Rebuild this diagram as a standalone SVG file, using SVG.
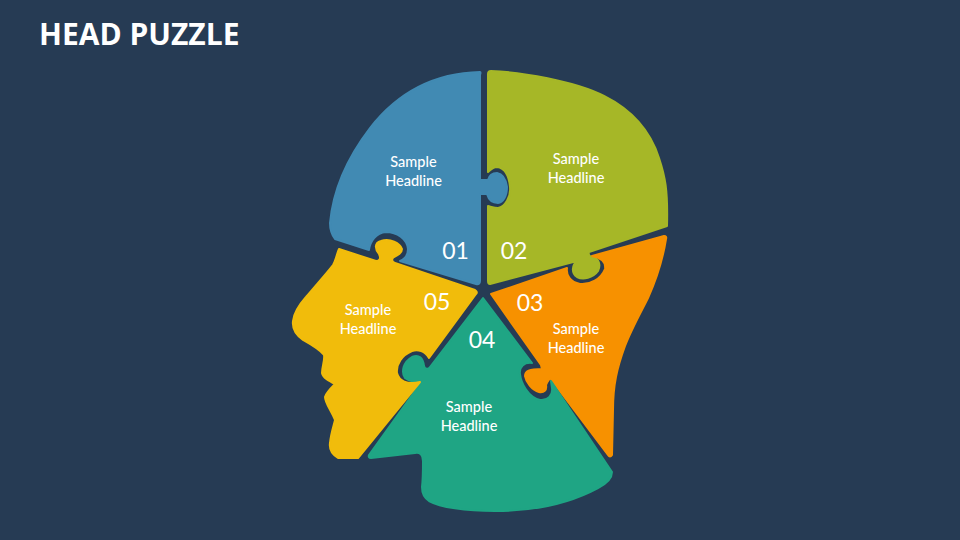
<svg xmlns="http://www.w3.org/2000/svg" width="960" height="540" viewBox="0 0 960 540">
<style>
.p{stroke-width:2;stroke-linejoin:round}
text{fill:#fff;text-anchor:middle;font-family:"Lato","Liberation Sans",sans-serif}
.l{font-size:14.5px;font-weight:500}
.n{font-size:23px}
.t{font-family:"Open Sans","Liberation Sans",sans-serif;font-weight:700;font-size:30px;text-anchor:start}
</style>
<rect width="960" height="540" fill="#263B54"/>
<text class="t" x="39" y="45">HEAD PUZZLE</text>
<g id="piece-01">
<path class="p" fill="#418AB3" stroke="#418AB3" d="M480 72 C435 73 398 92 370 128 C347 158 333 190 330 223 C330 230 332 235 335 239 L369 250 C370 241 376 233 386 232 C397 232 407 239 408 249 C408 255 405 259 400 261 L476 284 Q480 285 480 281 L480 194 L487 194 C489 201 493 203 498 203 C503 203 507 196 507 187 C506 180 503 174 497 173 C492 173 489 176 488 180 L480 180 L480 75 Q481 72 480 72 Z"/>
<text class="l" x="413.5" y="167">Sample</text>
<text class="l" x="413.5" y="186">Headline</text>
<text class="n" x="455.5" y="259">01</text>
</g>
<g id="piece-02">
<path class="p" fill="#A6B727" stroke="#A6B727" d="M488 74 Q488 71 491 71 C520 72 575 81 604 96 C632 110 650 130 659 158 C665 176 668 190 667 226 L589 252 C588 255 590 257 593 257 C599 259 601 265 598 271 C593 278 583 280 577 277 C571 273 572 265 577 261 L490 284 Q488 284 488 281 L488 206 C492 207 495 208 498 208 C505 207 511 197 510 187 C509 176 505 168 497 167 C493 167 490 170 488 172 Z"/>
<text class="l" x="576" y="164">Sample</text>
<text class="l" x="576" y="183">Headline</text>
<text class="n" x="514" y="259">02</text>
</g>
<g id="piece-03">
<path class="p" fill="#F79100" stroke="#F79100" d="M491 294 L567 268 C566 275 570 282 580 284 C590 285 601 279 605 269 C606 263 602 258 592 256 L664 236 Q667 236 666 239 C663 258 657 278 648 298 C640 314 631 330 625 346 C617 368 613 385 613 410 L612 455 Q610 458 608 455 L550 378 C549 380 547 382 546 385 C547 390 544 393 539 392 C532 390 526 382 525 376 C525 371 529 369 542 369 L541 365 Z"/>
<text class="l" x="576" y="334">Sample</text>
<text class="l" x="576" y="353">Headline</text>
<text class="n" x="530" y="311">03</text>
</g>
<g id="piece-04">
<path class="p" fill="#1FA584" stroke="#1FA584" d="M483 298 L532 363 C524 362 519 367 520 374 C521 383 528 397 540 400 C548 401 553 395 552 388 L551 381 L612 472 C612 478 606 484 598 488 C570 503 535 511 495 511 C465 511 440 507 429 501 C423 497 422 492 422 487 C423 479 423 470 423 461 C423 455 420 452 415 453 L371 458 Q368 458 369 455 L420 384 C415 381 410 382 405 378 C401 372 403 362 412 357 C419 354 423 358 424 366 C425 369 428 370 430 367 Z"/>
<text class="l" x="469" y="412">Sample</text>
<text class="l" x="469" y="431">Headline</text>
<text class="n" x="482" y="348">04</text>
</g>
<g id="piece-05">
<path class="p" fill="#F1BC0B" stroke="#F1BC0B" d="M339 249 L376 261 C380 261 381 258 379 254 C375 249 374 243 381 241 C390 238 400 243 402 249 C402 253 398 255 394 257 C391 259 392 262 395 263 L475 290 Q478 292 476 294 L429 358 C425 351 418 349 412 351 C402 355 396 364 397 373 C399 381 407 385 420 382 L358 458 L338 458 C333 455 329 450 330 443 C331 433 334 425 335 420 C331 410 325 403 325 397 C326 393 330 389 335 384 C329 381 323 378 322 373 C322 367 325 360 324 355 C320 350 312 345 303 340 C296 335 292 329 293 321 C294 312 299 305 306 297 C316 285 326 274 333 265 C336 260 337 253 339 249 Z"/>
<text class="l" x="368" y="315">Sample</text>
<text class="l" x="368" y="334">Headline</text>
<text class="n" x="437" y="310">05</text>
</g>
<g id="connectors"></g>
</svg>
